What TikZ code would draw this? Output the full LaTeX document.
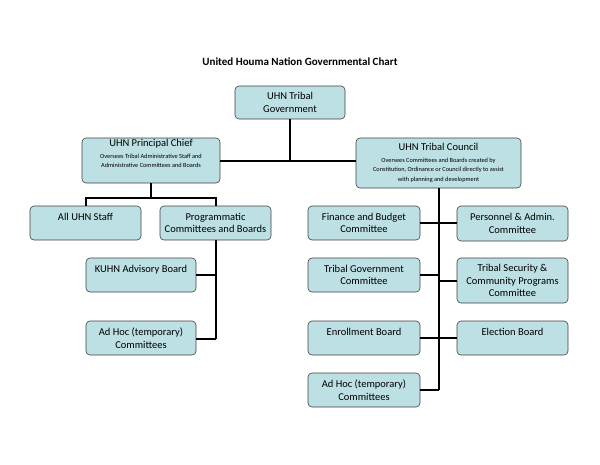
\documentclass[tikz,border=0pt]{standalone}
\usepackage{fontspec}
\setmainfont{Carlito}
\begin{document}
\begin{tikzpicture}[x=1pt,y=-1pt,
 box/.style={draw=black!75,fill=boxc,rounded corners=4pt,line width=0.6pt,align=center,font=\fontsize{10.5}{12.5}\selectfont,inner sep=1pt},
 ln/.style={line width=1.3pt,black}]
\definecolor{boxc}{HTML}{BCE0E3}
\useasboundingbox (0,0) rectangle (600,464);
\node[font=\bfseries\fontsize{11}{13}\selectfont] (title) at (300,62) {United Houma Nation Governmental Chart};
\newcommand{\bx}[6]{\node[box,minimum width=#4-#2,minimum height=#5-#3] (#1) at ({(#2+#4)/2},{(#3+#5)/2}) {#6};}
\bx{gov}{235}{86}{345}{119}{UHN Tribal\\Government}
\bx{chief}{82}{138}{220}{183}{UHN Principal Chief\\[-1pt]{\fontsize{6.3}{8.3}\selectfont Oversees Tribal Administrative Staff and}\\[-3pt]{\fontsize{6.3}{8.3}\selectfont Administrative Committees and Boards}\\[-2pt]\strut}
\bx{council}{356}{138}{521}{188}{UHN Tribal Council\\[-1pt]{\fontsize{6.3}{8.3}\selectfont Oversees Committees and Boards created by}\\[-3pt]{\fontsize{6.3}{8.3}\selectfont Constitution, Ordinance or Council directly to assist}\\[-3pt]{\fontsize{6.3}{8.3}\selectfont with planning and development}}
\bx{staff}{30}{206}{141}{240}{All UHN Staff\\\phantom{X}}
\bx{prog}{160}{206}{271}{240}{Programmatic\\Committees and Boards}
\bx{kuhn}{86}{258}{196}{292}{KUHN Advisory Board\\\phantom{X}}
\bx{adhocl}{86}{321}{196}{355}{Ad Hoc (temporary)\\Committees}
\bx{fin}{308}{206}{420}{240}{Finance and Budget\\Committee}
\bx{pers}{457}{206}{568}{241}{Personnel \& Admin.\\Committee}
\bx{tgc}{308}{258}{420}{292}{Tribal Government\\Committee}
\bx{sec}{457}{258}{568}{303}{Tribal Security \&\\Community Programs\\Committee}
\bx{enr}{308}{321}{420}{355}{Enrollment Board\\\phantom{X}}
\bx{ele}{457}{321}{568}{355}{Election Board\\\phantom{X}}
\bx{adhocr}{308}{373}{420}{407}{Ad Hoc (temporary)\\Committees}
\coordinate (j1) at (290,161);
\coordinate (cj) at (151,198);
\coordinate (pv) at (216,339);
\coordinate (rv) at (439,390);
\draw[ln] (gov.south) -- (j1);
\draw[ln] (chief.east |- j1) -- (council.west |- j1);
\draw[ln] (chief.south -| cj) -- (cj);
\draw[ln] (staff.north -| 86,0) -- (86,198) -- (216,198) -- (prog.north -| 216,0);
\draw[ln] (prog.south -| pv) -- (pv);
\draw[ln] (kuhn.east |- 0,275) -- (216,275);
\draw[ln] (adhocl.east |- pv) -- (pv);
\draw[ln] (council.south -| rv) -- (rv);
\draw[ln] (fin.east |- 0,223) -- (pers.west |- 0,223);
\draw[ln] (tgc.east |- 0,275) -- (439,275);
\draw[ln] (439,281) -- (sec.west |- 0,281);
\draw[ln] (enr.east |- 0,338) -- (ele.west |- 0,338);
\draw[ln] (adhocr.east |- rv) -- (rv);
\end{tikzpicture}
\end{document}
